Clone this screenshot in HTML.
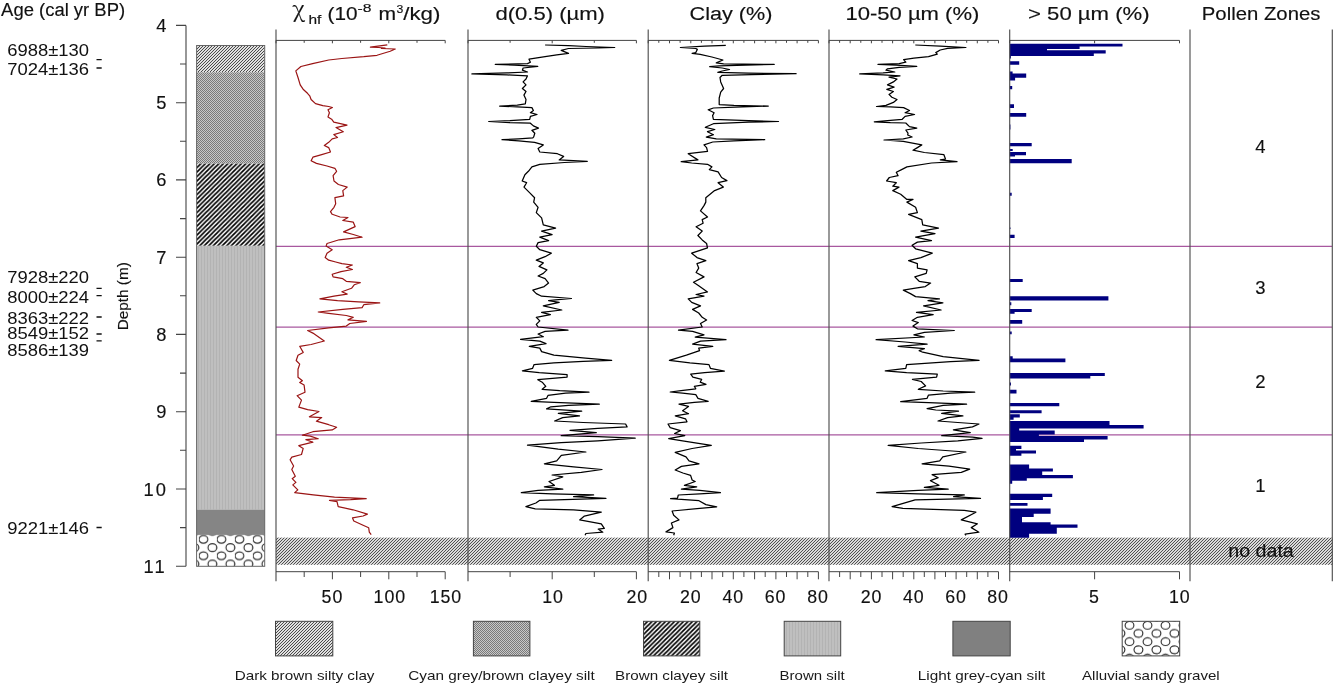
<!DOCTYPE html><html><head><meta charset="utf-8"><title>Sediment core profile</title><style>html,body{margin:0;padding:0;background:#fff;overflow:hidden}svg{display:block}text{stroke:#111;stroke-width:0.15px}text.n{stroke:none}</style></head><body>
<svg width="1333" height="683" viewBox="0 0 1333 683" font-family="'Liberation Sans', Arial, sans-serif" fill="#111" stroke-width="0.3">
<defs>
<pattern id="hf" width="3" height="3" patternUnits="userSpaceOnUse"><rect width="3" height="3" fill="#e0e0e0"/><rect x="0" y="2" width="1" height="1" fill="#4a4a4a"/><rect x="1" y="1" width="1" height="1" fill="#4a4a4a"/><rect x="2" y="0" width="1" height="1" fill="#4a4a4a"/></pattern>
<pattern id="hb" width="4.5" height="4.5" patternUnits="userSpaceOnUse"><rect width="4.5" height="4.5" fill="#fff"/><path d="M-1,1 L1,-1 M0,4.5 L4.5,0 M3.5,5.5 L5.5,3.5" stroke="#000" stroke-width="1.7"/></pattern>
<pattern id="cr" width="2" height="2" patternUnits="userSpaceOnUse"><rect width="2" height="2" fill="#c8c8c8"/><rect width="1" height="1" fill="#7a7a7a"/><rect x="1" y="1" width="1" height="1" fill="#7a7a7a"/></pattern>
<pattern id="bs" width="3" height="10" patternUnits="userSpaceOnUse"><rect width="3" height="10" fill="#bfbfbf"/><rect width="1" height="10" fill="#b3b3b3"/></pattern>
<pattern id="gv" x="198.9" y="535.4" width="18" height="16.4" patternUnits="userSpaceOnUse"><rect width="18" height="16.4" fill="#fff"/><g fill="none" stroke="#2a2a2a" stroke-width="1.1"><ellipse cx="4.5" cy="4" rx="4.4" ry="3.9"/><ellipse cx="13.5" cy="12.2" rx="4.4" ry="3.9"/><ellipse cx="13.5" cy="-4.2" rx="4.4" ry="3.9"/><ellipse cx="-4.5" cy="12.2" rx="4.4" ry="3.9"/><ellipse cx="22.5" cy="12.2" rx="4.4" ry="3.9"/><ellipse cx="4.5" cy="20.4" rx="4.4" ry="3.9"/></g></pattern>
<pattern id="gv2" x="1122" y="621" width="18" height="16.4" patternUnits="userSpaceOnUse"><rect width="18" height="16.4" fill="#fff"/><g fill="none" stroke="#2a2a2a" stroke-width="1.1"><ellipse cx="7.5" cy="4.3" rx="4.4" ry="3.9"/><ellipse cx="16.4" cy="12.4" rx="4.4" ry="3.9"/><ellipse cx="-1.5" cy="12.4" rx="4.4" ry="3.9"/><ellipse cx="7.5" cy="20.7" rx="4.4" ry="3.9"/><ellipse cx="16.4" cy="-4" rx="4.4" ry="3.9"/></g></pattern>
<pattern id="nd" width="3" height="3" patternUnits="userSpaceOnUse"><rect width="3" height="3" fill="#dadada"/><rect x="0" y="2" width="1" height="1" fill="#505050"/><rect x="1" y="1" width="1" height="1" fill="#505050"/><rect x="2" y="0" width="1" height="1" fill="#505050"/></pattern>
</defs>
<rect x="276" y="537.6" width="1057" height="27.2" fill="url(#nd)"/>
<line x1="276" y1="246.3" x2="1332" y2="246.3" stroke="#a8589f" stroke-width="1.25"/>
<line x1="276" y1="327.0" x2="1332" y2="327.0" stroke="#a8589f" stroke-width="1.25"/>
<line x1="276" y1="434.9" x2="1332" y2="434.9" stroke="#a8589f" stroke-width="1.25"/>
<path d="M1009.7,43.7H1122.5V46.6H1009.7ZM1009.7,46.6H1079.6V48.9H1009.7ZM1009.7,48.9H1047.0V50.2H1009.7ZM1009.7,50.2H1105.7V53.6H1009.7ZM1009.7,53.6H1093.8V56.0H1009.7ZM1009.7,56.0H1010.9V58.5H1009.7ZM1009.7,61.2H1019.2V64.8H1009.7ZM1009.7,71.4H1012.6V73.4H1009.7ZM1009.7,73.6H1026.2V77.8H1009.7ZM1009.7,77.8H1015.1V80.5H1009.7ZM1009.7,86.0H1012.2V89.2H1009.7ZM1009.7,104.2H1014.0V108.0H1009.7ZM1009.7,113.0H1026.2V116.8H1009.7ZM1009.7,124.4H1010.4V129.5H1009.7ZM1009.7,142.9H1031.7V146.2H1009.7ZM1009.7,149.0H1012.7V150.9H1009.7ZM1009.7,151.9H1026.0V155.3H1009.7ZM1009.7,155.3H1015.0V156.6H1009.7ZM1009.7,158.9H1071.7V163.3H1009.7ZM1009.7,192.8H1011.7V195.7H1009.7ZM1009.7,227.5H1010.5V229.0H1009.7ZM1009.7,234.7H1014.6V238.1H1009.7ZM1009.7,278.9H1022.7V282.0H1009.7ZM1009.7,296.3H1108.4V300.4H1009.7ZM1009.7,302.3H1011.3V305.2H1009.7ZM1009.7,309.0H1031.7V311.9H1009.7ZM1009.7,311.9H1014.6V313.8H1009.7ZM1009.7,320.0H1022.2V323.8H1009.7ZM1009.7,331.5H1011.7V334.3H1009.7ZM1009.7,356.2H1012.7V358.5H1009.7ZM1009.7,358.5H1065.4V362.3H1009.7ZM1009.7,372.9H1104.8V375.9H1009.7ZM1009.7,375.9H1090.3V378.6H1009.7ZM1009.7,382.5H1011.0V385.5H1009.7ZM1009.7,389.8H1016.5V393.4H1009.7ZM1009.7,402.9H1059.3V406.2H1009.7ZM1009.7,410.2H1041.6V413.2H1009.7ZM1009.7,414.3H1019.8V417.4H1009.7ZM1009.7,417.4H1013.6V419.8H1009.7ZM1009.7,421.1H1109.5V425.0H1009.7ZM1009.7,425.0H1143.6V428.4H1009.7ZM1009.7,428.4H1019.2V430.6H1009.7ZM1009.7,430.6H1054.7V434.4H1009.7ZM1009.7,434.4H1038.9V435.9H1009.7ZM1009.7,435.9H1107.6V439.6H1009.7ZM1009.7,439.6H1084.0V441.9H1009.7ZM1009.7,445.8H1021.4V448.9H1009.7ZM1009.7,448.9H1016.0V450.5H1009.7ZM1009.7,450.5H1036.0V453.5H1009.7ZM1009.7,453.5H1021.4V455.7H1009.7ZM1009.7,464.6H1029.1V468.5H1009.7ZM1009.7,468.5H1052.9V471.5H1009.7ZM1009.7,471.5H1042.2V475.1H1009.7ZM1009.7,475.1H1072.9V478.2H1009.7ZM1009.7,478.2H1026.8V480.8H1009.7ZM1009.7,480.8H1012.2V483.8H1009.7ZM1009.7,493.8H1052.2V496.9H1009.7ZM1009.7,496.9H1042.9V500.0H1009.7ZM1009.7,503.1H1027.5V505.8H1009.7ZM1009.7,508.5H1050.6V513.8H1009.7ZM1009.7,513.8H1033.7V516.9H1009.7ZM1009.7,516.9H1022.0V522.3H1009.7ZM1009.7,522.3H1050.6V524.6H1009.7ZM1009.7,524.6H1077.5V527.7H1009.7ZM1009.7,527.7H1056.8V533.8H1009.7ZM1009.7,533.8H1029.1V537.7H1009.7Z" fill="#00007f"/>
<polyline points="387.3,44.9 370.4,47.1 378.5,47.5 385.1,48.0 381.4,48.5 395.3,49.0 390.2,51.2 377.0,55.3 363.8,56.7 341.9,58.5 328.7,60.0 312.6,63.6 300.9,66.5 295.8,70.9 298.0,77.5 300.2,84.8 303.1,89.2 307.5,93.3 309.7,95.8 311.1,99.5 315.5,103.6 322.8,105.6 328.7,106.5 332.4,107.5 328.0,109.7 329.4,112.7 328.0,117.0 331.6,119.2 333.8,122.2 340.4,123.6 347.0,125.1 336.0,127.6 343.3,131.7 333.8,134.6 337.5,137.5 332.2,138.8 328.7,142.3 324.3,145.5 328.7,147.6 330.5,152.0 321.7,154.6 312.9,157.2 311.1,160.7 316.4,163.4 327.0,166.0 334.9,168.3 336.6,171.3 333.1,175.7 334.0,181.0 338.4,184.5 347.2,187.1 342.8,190.6 343.6,195.9 334.9,197.6 335.7,203.8 334.0,207.3 330.5,211.7 332.2,214.3 340.1,217.0 348.0,217.5 342.8,220.5 353.3,222.2 355.1,226.6 343.6,231.9 353.3,234.5 362.1,237.2 349.8,238.6 339.2,239.8 327.0,243.5 326.1,246.1 332.2,249.7 327.0,253.2 325.2,257.6 328.7,260.2 335.7,262.0 341.9,263.7 352.4,265.0 346.3,267.2 352.4,269.5 341.0,271.6 332.2,274.3 333.1,276.9 342.8,278.7 346.3,281.3 360.3,282.7 354.2,284.8 351.5,288.3 341.9,291.8 347.2,294.1 334.0,296.2 319.9,298.9 337.5,300.6 358.6,301.8 379.7,302.9 363.8,304.7 362.1,307.6 342.8,309.4 318.2,312.0 328.7,313.4 346.3,315.5 353.3,317.3 348.0,319.9 366.5,321.3 349.8,323.5 346.3,326.1 328.7,327.8 307.6,330.5 312.9,333.1 324.3,341.0 311.1,344.5 299.7,346.3 303.2,352.4 298.0,355.3 296.2,360.5 299.7,364.1 298.0,369.3 298.0,377.2 302.4,380.7 299.7,382.5 304.1,385.1 305.0,392.2 297.1,395.7 301.5,400.1 298.8,407.1 307.6,409.7 319.0,411.5 309.4,416.8 321.7,417.6 316.4,421.2 328.7,424.7 336.6,427.3 332.2,429.9 312.9,431.7 302.4,435.2 310.3,436.1 318.2,438.7 305.9,439.6 312.9,442.2 298.8,445.7 303.2,448.4 301.5,454.5 291.8,457.2 290.1,459.8 293.6,466.0 291.8,469.5 295.3,476.2 292.2,478.7 295.9,482.4 292.8,484.9 297.8,489.9 294.7,492.6 313.3,494.8 334.5,497.1 366.2,498.6 350.6,499.6 329.5,500.4 337.0,501.7 338.2,506.7 353.1,509.8 367.4,514.1 363.1,516.0 352.5,517.9 353.8,521.0 363.1,525.3 368.7,527.8 369.3,532.2 371.2,534.6" fill="none" stroke="#9a1414" stroke-width="1.2" stroke-linejoin="round"/>
<polyline points="545.1,45.0 568.5,45.6 586.1,46.5 614.7,47.5 597.8,48.0 568.5,48.5 561.2,50.4 568.5,53.4 556.8,54.8 545.1,56.7 529.0,59.2 530.4,62.2 527.5,63.6 495.3,64.4 514.3,65.1 537.8,66.3 523.1,68.0 522.4,70.2 527.5,72.0 507.0,72.9 471.9,73.9 507.0,74.9 527.5,75.8 526.0,79.0 523.1,81.9 526.0,84.9 522.4,88.5 526.0,91.5 523.9,95.1 526.0,99.5 525.3,103.9 517.3,105.1 499.7,106.1 517.3,106.8 531.9,107.6 533.4,110.5 530.4,112.7 537.0,114.5 530.4,116.4 529.7,119.3 509.9,120.7 488.7,121.5 509.9,122.7 530.4,123.2 533.4,125.9 538.5,128.1 531.9,130.3 534.8,133.2 533.7,136.9 532.8,137.9 518.7,138.8 502.0,139.7 518.7,140.9 534.6,142.3 543.3,144.9 538.1,148.5 539.8,152.0 557.4,153.7 563.6,156.4 559.2,159.9 587.3,161.3 564.4,162.5 539.8,164.3 531.9,166.9 528.4,171.3 524.9,174.8 522.2,181.0 526.6,182.7 524.0,187.1 529.3,192.4 534.6,197.7 533.7,202.1 538.1,207.3 536.3,212.6 541.6,217.9 543.3,224.9 555.6,228.1 541.6,231.1 552.1,234.6 539.8,237.2 548.6,240.7 538.1,242.6 536.3,246.2 539.8,249.7 551.3,253.2 545.1,256.7 536.3,260.2 543.3,262.9 539.0,266.4 546.9,269.9 543.3,273.4 538.1,276.0 545.1,278.7 548.6,283.1 544.2,286.6 532.8,290.1 536.3,293.6 541.6,296.2 571.5,298.5 555.6,299.8 548.6,300.6 559.2,302.4 543.3,305.9 561.8,310.0 541.6,312.4 550.4,314.7 536.3,317.3 539.8,320.9 536.3,324.4 538.1,327.0 568.0,330.2 545.1,331.4 538.1,334.0 543.3,336.7 520.5,339.3 539.8,341.1 546.0,343.7 529.3,346.3 539.8,348.1 541.6,351.6 553.9,355.1 585.5,358.1 611.7,360.3 583.2,361.4 553.9,362.9 534.1,364.6 532.6,368.3 522.4,370.8 539.2,372.7 567.1,374.6 567.1,377.1 549.5,378.6 537.8,379.7 542.2,382.2 545.8,386.3 542.2,389.3 559.7,390.7 589.0,392.2 565.6,393.2 548.0,395.4 546.6,398.3 531.2,401.3 553.9,402.4 599.3,404.2 568.5,405.4 550.9,406.8 546.6,408.9 581.7,411.2 558.3,413.3 579.5,415.9 562.7,417.7 554.6,421.0 583.2,422.5 625.6,424.0 627.1,426.9 597.8,428.4 570.0,430.3 596.3,432.7 561.2,435.7 597.8,436.7 635.2,438.2 597.8,440.8 561.2,442.6 527.5,445.2 558.2,449.2 585.9,452.0 561.3,455.4 556.7,460.8 544.4,463.8 573.6,466.9 602.0,469.5 581.3,472.3 552.1,475.0 562.8,476.9 549.0,481.5 554.4,485.3 544.4,486.9 562.8,489.2 538.2,490.4 521.3,492.7 552.1,493.8 593.6,494.9 573.6,496.6 605.9,498.4 539.8,500.3 535.9,503.0 525.9,506.6 535.2,508.9 573.6,509.9 601.3,512.2 584.4,516.1 579.7,519.9 601.3,523.8 604.3,528.4 598.2,529.1 602.8,532.2 585.9,533.5 585.1,535.3" fill="none" stroke="#000" stroke-width="1.25" stroke-linejoin="round"/>
<polyline points="725.8,45.3 704.6,46.1 680.4,47.5 695.8,48.5 697.3,49.4 695.8,52.6 692.1,53.4 700.2,54.4 711.9,57.0 722.9,60.0 716.3,62.9 723.6,63.9 774.2,64.4 745.6,65.1 719.2,65.8 709.7,66.6 722.2,68.0 729.5,69.5 722.2,71.0 717.8,72.4 748.5,73.1 796.1,73.7 751.5,74.6 722.2,75.3 720.0,77.5 720.7,81.9 723.6,88.5 720.7,92.2 719.2,98.0 719.2,104.6 733.9,105.4 768.3,106.1 735.3,107.1 713.4,108.0 708.2,109.8 714.1,112.7 712.6,115.6 713.4,119.3 748.5,120.7 778.5,121.5 748.5,122.2 713.4,123.7 705.3,127.3 714.8,129.5 707.5,131.7 713.4,134.7 706.3,137.1 716.3,138.8 764.7,139.7 733.9,140.9 712.8,142.0 704.0,144.9 706.6,147.6 707.5,151.4 688.2,153.7 697.9,159.9 681.2,161.6 691.7,163.0 707.5,164.3 711.9,166.9 709.3,169.6 718.1,171.8 721.6,177.5 726.9,180.6 718.1,182.7 723.3,187.1 714.6,190.6 705.8,197.7 705.8,202.1 704.0,205.6 700.5,210.9 707.5,217.0 702.2,219.6 703.1,223.2 696.1,226.7 702.2,231.1 697.9,235.5 702.2,239.9 706.6,243.5 707.5,247.9 691.7,253.2 697.0,257.6 705.8,260.7 697.0,263.7 698.7,268.1 696.1,272.5 704.0,276.9 693.5,282.2 698.7,285.7 707.5,291.9 696.1,294.5 704.0,296.2 688.2,298.9 691.7,302.4 700.5,305.9 692.6,309.4 698.7,313.0 702.2,317.3 706.6,320.0 700.5,323.5 702.2,327.0 678.5,330.2 692.6,331.4 704.0,334.9 695.2,337.2 726.0,339.7 700.5,341.1 692.6,344.1 712.8,346.3 698.7,348.1 699.6,350.7 686.4,355.1 669.4,360.3 689.9,362.9 709.0,364.6 710.4,368.3 724.4,371.2 704.6,372.7 690.7,374.2 692.9,377.1 701.7,379.3 700.2,382.2 706.0,384.4 694.3,386.3 695.8,388.8 681.1,390.7 670.2,392.0 682.6,393.2 695.8,394.7 698.0,398.3 708.2,401.3 694.3,402.4 679.0,404.2 688.5,406.4 682.6,410.8 688.5,413.7 675.3,415.9 685.5,418.8 687.0,421.8 668.0,424.0 670.2,427.6 680.4,430.6 674.6,433.5 684.8,435.7 668.7,438.6 682.6,440.8 692.1,442.3 711.3,445.4 692.1,448.5 675.2,452.3 686.0,456.9 689.0,460.8 699.0,463.8 681.4,466.4 675.2,470.0 682.9,473.0 690.6,475.4 692.1,480.0 695.2,481.5 684.4,485.3 696.7,486.9 681.4,489.2 699.8,490.4 720.5,492.7 699.8,493.8 678.3,495.0 677.5,498.1 670.6,498.7 699.0,500.7 705.9,504.6 716.7,506.9 699.8,508.4 672.1,511.0 673.7,515.3 679.0,519.9 671.4,523.0 672.9,527.6 666.0,531.9 674.4,533.0 673.7,535.3" fill="none" stroke="#000" stroke-width="1.25" stroke-linejoin="round"/>
<polyline points="915.3,45.0 940.2,46.1 965.9,47.5 947.6,48.3 940.2,50.0 935.8,52.6 937.3,54.1 928.5,56.7 913.9,58.2 903.6,59.7 905.8,62.2 899.2,63.6 878.0,64.4 896.3,65.2 916.8,66.3 899.2,67.3 887.5,68.8 886.0,70.2 894.8,72.0 883.1,72.9 859.7,73.9 883.1,74.9 900.0,75.8 889.0,77.2 897.0,79.0 893.4,81.9 887.5,84.9 894.1,87.1 886.8,89.3 893.4,91.5 889.0,94.4 891.9,97.3 897.0,99.5 893.4,102.4 886.0,105.4 876.5,106.5 890.4,106.8 903.6,107.6 909.5,110.5 905.1,112.7 914.6,114.5 905.1,116.4 902.2,119.3 887.5,120.7 874.3,121.8 890.4,122.7 905.8,123.0 909.5,126.6 916.8,128.1 905.8,130.0 908.0,133.2 907.7,135.0 912.1,137.0 903.3,138.8 884.0,140.0 903.3,141.4 921.8,144.9 917.4,147.6 913.0,150.2 924.4,152.5 943.8,154.6 945.5,159.0 940.3,159.9 957.0,161.6 931.5,163.0 906.9,166.9 901.6,169.6 896.3,172.2 898.1,175.7 889.3,177.5 886.6,181.0 896.3,182.7 892.8,186.2 899.0,187.1 892.8,190.6 900.7,194.2 906.9,199.4 913.0,199.4 906.9,202.1 915.6,207.3 917.4,212.6 908.6,214.4 921.8,219.6 922.7,224.9 938.5,228.1 920.9,231.1 935.0,233.7 915.6,237.2 931.5,240.7 917.4,242.1 912.1,245.3 915.6,248.8 932.3,253.2 920.9,257.6 908.6,260.7 917.4,263.7 917.4,268.1 927.1,269.9 926.2,273.4 914.8,276.9 919.2,281.3 930.6,283.1 925.3,286.6 913.9,288.3 903.3,290.1 910.4,293.6 915.6,296.6 939.4,298.9 928.0,300.6 942.9,302.9 923.6,305.9 941.1,310.0 916.5,312.4 933.2,314.7 917.4,317.3 912.1,320.5 918.3,322.6 913.0,326.1 917.4,328.8 954.3,330.5 924.4,332.3 913.9,334.9 924.4,337.0 876.1,339.7 905.1,342.0 927.1,344.2 898.1,346.3 924.4,348.6 919.2,350.7 922.7,352.2 943.2,356.6 979.1,360.3 950.5,361.7 906.6,364.6 905.8,368.3 885.3,370.9 906.6,372.7 937.3,374.2 936.6,377.1 912.4,379.3 921.2,381.5 925.6,385.9 918.3,389.3 943.2,391.0 974.7,392.2 950.5,393.2 928.5,395.1 927.1,398.3 900.7,401.6 928.5,402.7 966.6,404.2 943.2,405.4 927.1,408.6 935.8,410.0 958.5,411.2 941.7,413.3 962.9,415.9 947.6,417.7 938.0,421.0 957.8,422.5 979.0,424.0 972.5,426.9 953.4,429.8 970.3,432.7 941.7,435.7 972.5,437.1 982.0,438.3 957.8,440.8 921.2,443.0 888.2,445.4 918.2,448.5 965.9,452.0 942.8,456.9 939.7,460.8 922.1,463.8 949.0,466.1 969.7,469.2 961.3,472.3 932.1,474.6 938.2,477.7 930.5,480.7 939.0,485.3 924.4,487.3 948.2,489.2 918.2,490.4 876.7,492.7 918.2,493.8 964.3,494.9 953.6,496.6 980.5,498.4 915.1,499.9 892.1,506.6 902.9,508.4 964.3,510.4 975.9,512.2 961.3,519.9 977.4,523.8 971.3,527.6 978.9,532.2 965.1,534.1 965.9,535.3" fill="none" stroke="#000" stroke-width="1.25" stroke-linejoin="round"/>
<rect x="196.6" y="45.5" width="68.1" height="26.7" fill="url(#hf)"/>
<rect x="196.6" y="72.2" width="68.1" height="91.5" fill="url(#cr)"/>
<rect x="196.6" y="163.7" width="68.1" height="82.1" fill="url(#hb)"/>
<rect x="196.6" y="245.8" width="68.1" height="263.8" fill="url(#bs)"/>
<rect x="196.6" y="509.6" width="68.1" height="25.0" fill="#858585"/>
<rect x="196.6" y="534.6" width="68.1" height="31.7" fill="url(#gv)"/>
<rect x="196.6" y="45.5" width="68.1" height="520.8" fill="none" stroke="#666" stroke-width="1"/>
<line x1="196.6" y1="534.6" x2="264.7" y2="534.6" stroke="#777" stroke-width="0.8"/>
<path d="M186,25.4V566.2M176,25.4H186M176,102.7H186M176,179.9H186M176,257.2H186M176,334.4H186M176,411.7H186M176,489.0H186M176,566.2H186M180,64.0H186M180,141.3H186M180,218.6H186M180,295.8H186M180,373.1H186M180,450.3H186M180,527.6H186" stroke="#444" stroke-width="1.1" fill="none"/>
<text x="166.3" y="31.9" font-size="18.3" text-anchor="end">4</text>
<text x="166.3" y="109.2" font-size="18.3" text-anchor="end">5</text>
<text x="166.3" y="186.4" font-size="18.3" text-anchor="end">6</text>
<text x="166.3" y="263.7" font-size="18.3" text-anchor="end">7</text>
<text x="166.3" y="340.9" font-size="18.3" text-anchor="end">8</text>
<text x="166.3" y="418.2" font-size="18.3" text-anchor="end">9</text>
<text x="143.4" y="495.5" font-size="18.3" letter-spacing="2.2">10</text>
<text x="143.4" y="572.7" font-size="18.3" letter-spacing="2.2">11</text>
<path d="M276,29.6V581.3M468,29.6V581.3M648.2,29.6V581.3M829,29.6V581.3M1009.7,29.6V581.3M1190,29.6V581.3M1332.3,29.6V581.3" stroke="#505050" stroke-width="1.15" fill="none"/>
<path d="M276,40.4H445.2M276,571.7H445.2M276.0,40.4V43.3M304.2,40.4V42.8M304.2,571.7V577M332.4,40.4V43.3M332.4,571.7V579.3M360.6,40.4V42.8M360.6,571.7V577M388.8,40.4V43.3M388.8,571.7V579.3M417.0,40.4V42.8M417.0,571.7V577M445.2,40.4V43.3M445.2,571.7V579.3M468,40.4H636.4M468,571.7H636.4M468.0,40.4V43.3M510.1,40.4V42.8M510.1,571.7V577M552.2,40.4V43.3M552.2,571.7V579.3M594.3,40.4V42.8M594.3,571.7V577M636.4,40.4V43.3M636.4,571.7V579.3M648.2,40.4H818.4M648.2,571.7H818.4M648.2,40.4V43.3M658.8,40.4V42.8M658.8,571.7V577M669.5,40.4V43.3M669.5,571.7V579.3M680.1,40.4V42.8M680.1,571.7V577M690.8,40.4V43.3M690.8,571.7V579.3M701.4,40.4V42.8M701.4,571.7V577M712.0,40.4V43.3M712.0,571.7V579.3M722.7,40.4V42.8M722.7,571.7V577M733.3,40.4V43.3M733.3,571.7V579.3M743.9,40.4V42.8M743.9,571.7V577M754.6,40.4V43.3M754.6,571.7V579.3M765.2,40.4V42.8M765.2,571.7V577M775.9,40.4V43.3M775.9,571.7V579.3M786.5,40.4V42.8M786.5,571.7V577M797.1,40.4V43.3M797.1,571.7V579.3M807.8,40.4V42.8M807.8,571.7V577M818.4,40.4V43.3M818.4,571.7V579.3M829,40.4H998.5M829,571.7H998.5M829.0,40.4V43.3M839.6,40.4V42.8M839.6,571.7V577M850.2,40.4V43.3M850.2,571.7V579.3M860.8,40.4V42.8M860.8,571.7V577M871.4,40.4V43.3M871.4,571.7V579.3M882.0,40.4V42.8M882.0,571.7V577M892.6,40.4V43.3M892.6,571.7V579.3M903.2,40.4V42.8M903.2,571.7V577M913.8,40.4V43.3M913.8,571.7V579.3M924.3,40.4V42.8M924.3,571.7V577M934.9,40.4V43.3M934.9,571.7V579.3M945.5,40.4V42.8M945.5,571.7V577M956.1,40.4V43.3M956.1,571.7V579.3M966.7,40.4V42.8M966.7,571.7V577M977.3,40.4V43.3M977.3,571.7V579.3M987.9,40.4V42.8M987.9,571.7V577M998.5,40.4V43.3M998.5,571.7V579.3M1009.7,40.4H1179.5M1009.7,571.7H1179.5M1009.7,40.4V43.3M1094.6,40.4V43.3M1094.6,571.7V579.3M1179.5,40.4V43.3M1179.5,571.7V579.3" stroke="#444" stroke-width="1" fill="none"/>
<text x="332.4" y="602.5" font-size="17.8" letter-spacing="0.9" text-anchor="middle">50</text>
<text x="389.8" y="602.5" font-size="17.8" letter-spacing="0.9" text-anchor="middle">100</text>
<text x="445.9" y="602.5" font-size="17.8" letter-spacing="0.9" text-anchor="middle">150</text>
<text x="553.1" y="602.5" font-size="17.8" letter-spacing="0.9" text-anchor="middle">10</text>
<text x="637.2" y="602.5" font-size="17.8" letter-spacing="0.9" text-anchor="middle">20</text>
<text x="690.8" y="602.5" font-size="17.8" letter-spacing="0.9" text-anchor="middle">20</text>
<text x="733.2" y="602.5" font-size="17.8" letter-spacing="0.9" text-anchor="middle">40</text>
<text x="775.5" y="602.5" font-size="17.8" letter-spacing="0.9" text-anchor="middle">60</text>
<text x="818.1" y="602.5" font-size="17.8" letter-spacing="0.9" text-anchor="middle">80</text>
<text x="871.5" y="602.5" font-size="17.8" letter-spacing="0.9" text-anchor="middle">20</text>
<text x="913.7" y="602.5" font-size="17.8" letter-spacing="0.9" text-anchor="middle">40</text>
<text x="956.0" y="602.5" font-size="17.8" letter-spacing="0.9" text-anchor="middle">60</text>
<text x="998.1" y="602.5" font-size="17.8" letter-spacing="0.9" text-anchor="middle">80</text>
<text x="1094.0" y="602.5" font-size="17.8" letter-spacing="0" text-anchor="middle">5</text>
<text x="1179.8" y="602.5" font-size="17.8" letter-spacing="0.9" text-anchor="middle">10</text>
<text x="292.6" y="17" font-size="22.5" font-family="Noto Serif CJK SC, serif" stroke="#111" stroke-width="0.5">χ</text>
<text x="308.5" y="24" font-size="12" textLength="12.9" lengthAdjust="spacingAndGlyphs">hf</text>
<text x="327.5" y="19.8" font-size="18" textLength="30" lengthAdjust="spacingAndGlyphs">(10</text>
<text x="357.5" y="12" font-size="11.5" textLength="14" lengthAdjust="spacingAndGlyphs">-8</text>
<text x="378.4" y="19.8" font-size="18" textLength="17.6" lengthAdjust="spacingAndGlyphs">m</text>
<text x="396.5" y="12.6" font-size="11.5" textLength="6.8" lengthAdjust="spacingAndGlyphs">3</text>
<text x="403.2" y="19.8" font-size="18" textLength="37.2" lengthAdjust="spacingAndGlyphs">/kg)</text>
<text x="495.4" y="19.8" font-size="18" textLength="109.6" lengthAdjust="spacingAndGlyphs" >d(0.5) (µm)</text>
<text x="689.6" y="19.8" font-size="18" textLength="82.8" lengthAdjust="spacingAndGlyphs" >Clay (%)</text>
<text x="845.4" y="19.8" font-size="18" textLength="134" lengthAdjust="spacingAndGlyphs" >10-50 µm (%)</text>
<text x="1028" y="19.8" font-size="18" textLength="121.6" lengthAdjust="spacingAndGlyphs" >&gt; 50 µm (%)</text>
<text x="1201.8" y="19.6" font-size="17.6" textLength="118.6" lengthAdjust="spacingAndGlyphs" >Pollen Zones</text>
<text x="1.1" y="15.8" font-size="18" textLength="124" lengthAdjust="spacingAndGlyphs" >Age (cal yr BP)</text>
<text x="7.2" y="55.5" font-size="15.8" textLength="81.8" lengthAdjust="spacingAndGlyphs" class="n">6988±130</text>
<text x="7.2" y="74.8" font-size="15.8" textLength="81.8" lengthAdjust="spacingAndGlyphs" class="n">7024±136</text>
<text x="7.2" y="283.4" font-size="15.8" textLength="81.8" lengthAdjust="spacingAndGlyphs" class="n">7928±220</text>
<text x="7.2" y="302.5" font-size="15.8" textLength="81.8" lengthAdjust="spacingAndGlyphs" class="n">8000±224</text>
<text x="7.2" y="323.6" font-size="15.8" textLength="81.8" lengthAdjust="spacingAndGlyphs" class="n">8363±222</text>
<text x="7.2" y="339.3" font-size="15.8" textLength="81.8" lengthAdjust="spacingAndGlyphs" class="n">8549±152</text>
<text x="7.2" y="356.3" font-size="15.8" textLength="81.8" lengthAdjust="spacingAndGlyphs" class="n">8586±139</text>
<text x="7.2" y="534" font-size="15.8" textLength="81.8" lengthAdjust="spacingAndGlyphs" class="n">9221±146</text>
<path d="M96.5,59.6H101.7M96.5,68H101.7M96.5,288.4H101.7M96.5,295.6H101.7M96.5,317H101.7M96.5,334H101.7M96.5,340.8H101.7M96.5,527.5H101.7" stroke="#111" stroke-width="1.3"/>
<text transform="translate(127.6,296.2) rotate(-90)" font-size="15" text-anchor="middle" textLength="68" lengthAdjust="spacingAndGlyphs">Depth (m)</text>
<text x="1260.5" y="153.4" font-size="18.5" text-anchor="middle">4</text>
<text x="1260.5" y="294.4" font-size="18.5" text-anchor="middle">3</text>
<text x="1260.5" y="387.7" font-size="18.5" text-anchor="middle">2</text>
<text x="1260.5" y="491.5" font-size="18.5" text-anchor="middle">1</text>
<text x="1228.3" y="557.3" font-size="18" textLength="65.5" lengthAdjust="spacingAndGlyphs" >no data</text>
<rect x="275.5" y="621.3" width="57.3" height="34.6" fill="url(#hf)" stroke="#444" stroke-width="1"/>
<rect x="473.4" y="621.3" width="56.5" height="34.6" fill="url(#cr)" stroke="#444" stroke-width="1"/>
<rect x="643.5" y="621.3" width="56.3" height="34.6" fill="url(#hb)" stroke="#444" stroke-width="1"/>
<rect x="784.2" y="621.3" width="56.5" height="34.6" fill="url(#bs)" stroke="#444" stroke-width="1"/>
<rect x="952.9" y="621.3" width="57.3" height="34.6" fill="#808080" stroke="#444" stroke-width="1"/>
<rect x="1122.2" y="621.3" width="57.5" height="34.6" fill="url(#gv2)" stroke="#444" stroke-width="1"/>
<text x="234.7" y="679.5" font-size="13.5" textLength="139.8" lengthAdjust="spacingAndGlyphs" fill="#1a1a1a" class="n">Dark brown silty clay</text>
<text x="408.3" y="679.5" font-size="13.5" textLength="186.5" lengthAdjust="spacingAndGlyphs" fill="#1a1a1a" class="n">Cyan grey/brown clayey silt</text>
<text x="615.1" y="679.5" font-size="13.5" textLength="113.0" lengthAdjust="spacingAndGlyphs" fill="#1a1a1a" class="n">Brown clayey silt</text>
<text x="779.6" y="679.5" font-size="13.5" textLength="65.1" lengthAdjust="spacingAndGlyphs" fill="#1a1a1a" class="n">Brown silt</text>
<text x="917.8" y="679.5" font-size="13.5" textLength="127.5" lengthAdjust="spacingAndGlyphs" fill="#1a1a1a" class="n">Light grey-cyan silt</text>
<text x="1082" y="679.5" font-size="13.5" textLength="137.7" lengthAdjust="spacingAndGlyphs" fill="#1a1a1a" class="n">Alluvial sandy gravel</text>
</svg></body></html>
